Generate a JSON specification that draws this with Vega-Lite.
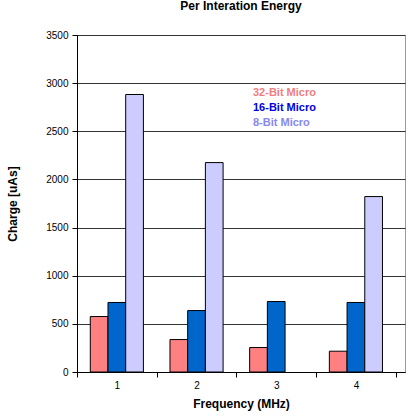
{
  "$schema": "https://vega.github.io/schema/vega-lite/v6.json",
  "autosize": "none",
  "padding": {"left": 77, "top": 35, "right": 8, "bottom": 45},
  "width": 328,
  "height": 337,
  "background": "#ffffff",
  "title": {
    "text": "Per Interation Energy",
    "font": "Liberation Sans",
    "fontSize": 12,
    "fontWeight": "bold",
    "color": "#000000",
    "offset": 17,
    "anchor": "middle"
  },
  "data": {
    "values": [
      {"freq": "1", "series": "32-Bit Micro", "charge": 576},
      {"freq": "1", "series": "16-Bit Micro", "charge": 722},
      {"freq": "1", "series": "8-Bit Micro", "charge": 2882},
      {"freq": "2", "series": "32-Bit Micro", "charge": 337},
      {"freq": "2", "series": "16-Bit Micro", "charge": 638},
      {"freq": "2", "series": "8-Bit Micro", "charge": 2175},
      {"freq": "3", "series": "32-Bit Micro", "charge": 254},
      {"freq": "3", "series": "16-Bit Micro", "charge": 732},
      {"freq": "4", "series": "32-Bit Micro", "charge": 216},
      {"freq": "4", "series": "16-Bit Micro", "charge": 722},
      {"freq": "4", "series": "8-Bit Micro", "charge": 1822}
    ]
  },
  "mark": {"type": "bar", "stroke": "#000000", "strokeWidth": 1, "opacity": 1},
  "encoding": {
    "x": {
      "field": "freq",
      "type": "ordinal",
      "scale": {"paddingInner": 0, "paddingOuter": 0.058, "align": 0},
      "axis": {
        "title": "Frequency (MHz)",
        "labelAngle": 0,
        "tickBand": "extent",
        "tickSize": 5,
        "labelPadding": 3,
        "titlePadding": 8,
        "grid": false
      }
    },
    "xOffset": {
      "field": "series",
      "type": "nominal",
      "sort": ["32-Bit Micro", "16-Bit Micro", "8-Bit Micro"],
      "scale": {"paddingInner": 0, "paddingOuter": 0.75}
    },
    "y": {
      "field": "charge",
      "type": "quantitative",
      "scale": {"domain": [0, 3500]},
      "axis": {
        "title": "Charge [uAs]",
        "values": [0, 500, 1000, 1500, 2000, 2500, 3000, 3500],
        "format": "d",
        "tickSize": 5,
        "labelPadding": 4,
        "titlePadding": 26,
        "grid": true
      }
    },
    "color": {
      "field": "series",
      "type": "nominal",
      "scale": {
        "domain": ["32-Bit Micro", "16-Bit Micro", "8-Bit Micro"],
        "range": ["#FF8080", "#0066CC", "#CCCCFF"]
      },
      "legend": {
        "title": null,
        "orient": "none",
        "legendX": 165,
        "legendY": 52,
        "symbolSize": 0,
        "symbolStrokeWidth": 0,
        "symbolOpacity": 0,
        "labelOffset": 0,
        "rowPadding": 3,
        "labelFont": "Liberation Sans",
        "labelFontSize": 11,
        "labelFontWeight": "bold",
        "labelColor": {"expr": "datum.label === '32-Bit Micro' ? '#F08080' : datum.label === '16-Bit Micro' ? '#0000DD' : '#8888EE'"}
      }
    }
  },
  "config": {
    "font": "Liberation Sans",
    "view": {"stroke": "#999999", "strokeWidth": 1},
    "axis": {
      "domainColor": "#000000",
      "tickColor": "#000000",
      "gridColor": "#333333",
      "gridWidth": 1,
      "labelFont": "Liberation Sans",
      "labelFontSize": 10,
      "labelColor": "#000000",
      "titleFont": "Liberation Sans",
      "titleFontSize": 12,
      "titleFontWeight": "bold",
      "titleColor": "#000000"
    }
  }
}
